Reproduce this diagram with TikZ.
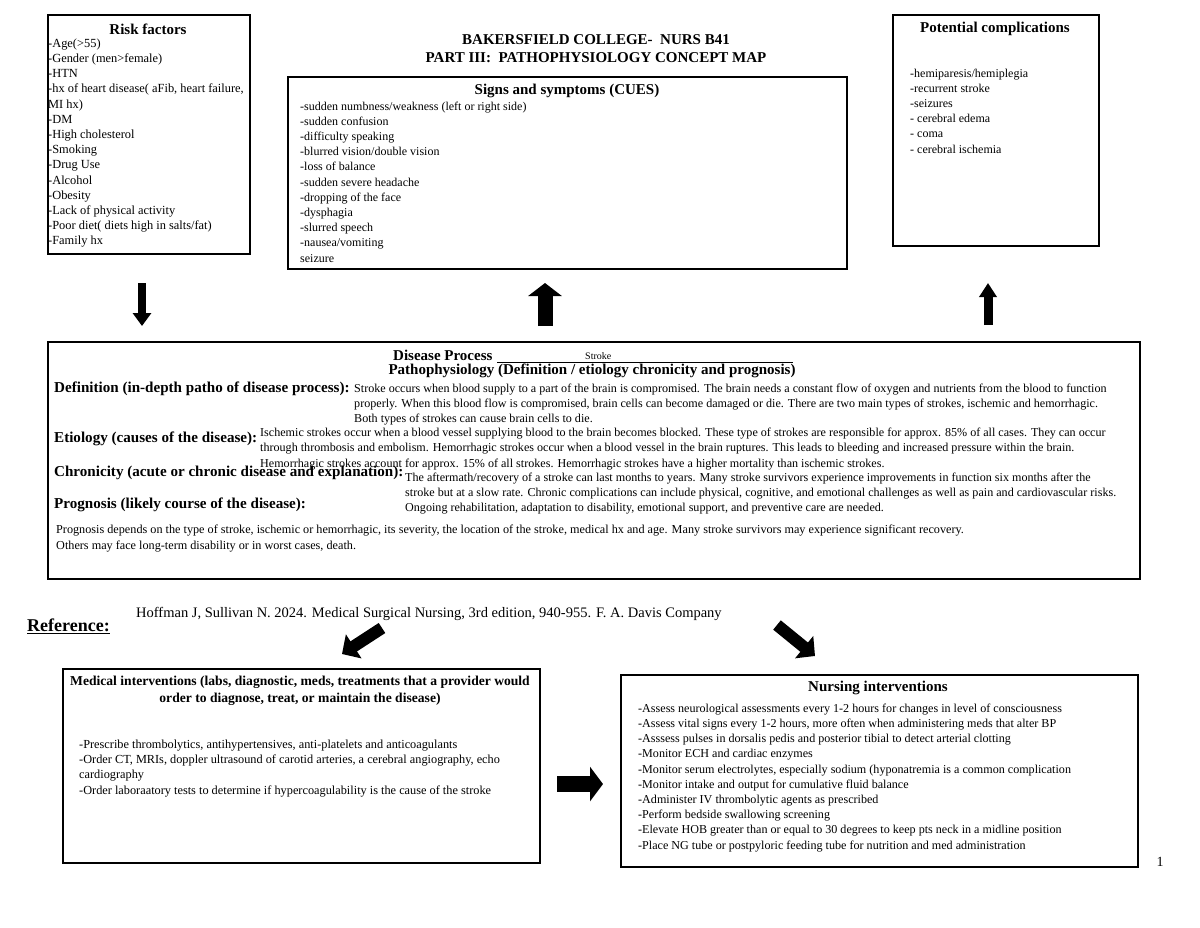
\documentclass[tikz,border=0pt]{standalone}
\usepackage{fontspec}
\setmainfont{Liberation Serif}
\usetikzlibrary{arrows.meta}

\newcommand{\fsz}[2]{\fontsize{#1}{#2}\selectfont}

\begin{document}
\begin{tikzpicture}[x=1pt,y=-1pt,
    box/.style={draw,line width=1.6pt,anchor=north west,inner sep=0pt},
    txt/.style={inner sep=0pt,anchor=north west,align=left,font=\fsz{12}{15.2}},
    head/.style={inner sep=0pt,align=center,font=\bfseries\fsz{15}{18}},
    lbl/.style={inner sep=0pt,anchor=west,font=\bfseries\fsz{15.1}{17}}]
                    \useasboundingbox (0,0) rectangle (1200,927);
                    % Title
                    \node[head] (T) at (596,49) {BAKERSFIELD COLLEGE-\ \ NURS B41\\PART III:\ \ PATHOPHYSIOLOGY CONCEPT MAP};
                    % Risk factors
                    \draw (47,14) node[box,minimum width=202,minimum height=239] (RF) {};
                    \node[head] (RFH) at (148,29) {Risk factors};
                    \node[txt,font=\fsz{12.4}{15.2}] (RFT) at (48,38.5) {-Age(>55)\\-Gender (men>female)\\-HTN\\-hx of heart disease( aFib, heart failure,\\MI hx)\\-DM\\-High cholesterol\\-Smoking\\-Drug Use\\-Alcohol\\-Obesity\\-Lack of physical activity\\-Poor diet( diets high in salts/fat)\\-Family hx};
                    % Signs and symptoms
                    \draw (287,76) node[box,minimum width=559,minimum height=192] (SS) {};
                    \node[head] (SSH) at (567,91) {Signs and symptoms (CUES)};
                    \node[txt] (SST) at (300,101.5) {-sudden numbness/weakness (left or right side)\\-sudden confusion\\-difficulty speaking\\-blurred vision/double vision\\-loss of balance\\-sudden severe headache\\-dropping of the face\\-dysphagia\\-slurred speech\\-nausea/vomiting\\seizure};
                    % Potential complications
                    \draw (892,14) node[box,minimum width=206,minimum height=231] (PC) {};
                    \node[head] (PCH) at (995,29) {Potential complications};
                    \node[txt] (PCT) at (910,68.5) {-hemiparesis/hemiplegia\\-recurrent stroke\\-seizures\\- cerebral edema\\- coma\\- cerebral ischemia};
                    % Upper arrows
                    \coordinate (A1) at (142,283);
                    \coordinate (A2) at (142,326);
                    \draw [line width=8pt,-{Triangle[width=18pt,length=13pt]}](A1) -- (A2);
                    \coordinate (B1) at (545,326);
                    \coordinate (B2) at (545,283);
                    \draw [line width=15pt,-{Triangle[width=33pt,length=13pt]}](B1) -- (B2);
                    \coordinate (C1) at (988,325);
                    \coordinate (C2) at (988,283);
                    \draw [line width=9pt,-{Triangle[width=17pt,length=14pt]}](C1) -- (C2);
                    % Disease process
                    \draw (47,341) node[box,minimum width=1092,minimum height=237] (DP) {};
                    \node[lbl,font=\bfseries\fsz{15}{18}] (DPH) at (393,355) {Disease Process};
                    \node[inner sep=0pt,anchor=west,font=\fsz{10}{12}] (DPS) at (585,356.5) {Stroke};
                    \coordinate (U1) at (497,362);
                    \coordinate (U2) at (793,362);
                    \draw [line width=0.8pt](U1) -- (U2);
                    \node[head] (PP) at (592,371) {Pathophysiology (Definition / etiology chronicity and prognosis)};
                    \node[lbl] (L1) at (54,389) {Definition (in-depth patho of disease process):};
                    \node[lbl] (L2) at (54,439) {Etiology (causes of the disease):};
                    \node[lbl] (L3) at (54,473) {Chronicity (acute or chronic disease and explanation):};
                    \node[lbl] (L4) at (54,505) {Prognosis (likely course of the disease):};
                    \node[txt,font=\fsz{12.1}{15}] (X1) at (354,383.5) {Stroke occurs when blood supply to a part of the brain is compromised. The brain needs a constant flow of oxygen and nutrients from the blood to function\\properly. When this blood flow is compromised, brain cells can become damaged or die. There are two main types of strokes, ischemic and hemorrhagic.\\Both types of strokes can cause brain cells to die.};
                    \node[txt,font=\fsz{12.1}{15.5}] (X2) at (260,427.5) {Ischemic strokes occur when a blood vessel supplying blood to the brain becomes blocked. These type of strokes are responsible for approx. 85\% of all cases. They can occur\\through thrombosis and embolism. Hemorrhagic strokes occur when a blood vessel in the brain ruptures. This leads to bleeding and increased pressure within the brain.\\Hemorrhagic strokes account for approx. 15\% of all strokes. Hemorrhagic strokes have a higher mortality than ischemic strokes.};
                    \node[txt,font=\fsz{12.1}{15}] (X3) at (405,472.5) {The aftermath/recovery of a stroke can last months to years. Many stroke survivors experience improvements in function six months after the\\stroke but at a slow rate. Chronic complications can include physical, cognitive, and emotional challenges as well as pain and cardiovascular risks.\\Ongoing rehabilitation, adaptation to disability, emotional support, and preventive care are needed.};
                    \node[txt,font=\fsz{12.2}{16}] (X4) at (56,524.5) {Prognosis depends on the type of stroke, ischemic or hemorrhagic, its severity, the location of the stroke, medical hx and age. Many stroke survivors may experience significant recovery.\\Others may face long-term disability or in worst cases, death.};
                    % Reference
                    \node[lbl,font=\bfseries\fsz{18}{20}] (R) at (27,626) {\underline{Reference:}};
                    \node[inner sep=0pt,anchor=west,font=\fsz{14.5}{16}] (RT) at (136,614) {Hoffman J, Sullivan N. 2024. Medical Surgical Nursing, 3rd edition, 940-955. F. A. Davis Company};
                    % Lower arrows
                    \coordinate (D1) at (382,628);
                    \coordinate (D2) at (342,654);
                    \draw [line width=12pt,-{Triangle[width=28pt,length=14pt]}](D1) -- (D2);
                    \coordinate (E1) at (777,625);
                    \coordinate (E2) at (815,656);
                    \draw [line width=12pt,-{Triangle[width=28pt,length=14pt]}](E1) -- (E2);
                    \coordinate (F1) at (557,784);
                    \coordinate (F2) at (603,784);
                    \draw [line width=16pt,-{Triangle[width=34pt,length=13pt]}](F1) -- (F2);
                    % Medical interventions
                    \draw (62,668) node[box,minimum width=477,minimum height=194] (MI) {};
                    \node[head,font=\bfseries\fsz{13.6}{17}] (MIH) at (300,690.5) {Medical interventions (labs, diagnostic, meds, treatments that a provider would\\order to diagnose, treat, or maintain the disease)};
                    \node[txt,font=\fsz{12.3}{15.3}] (MIT) at (79,739.5) {-Prescribe thrombolytics, antihypertensives, anti-platelets and anticoagulants\\-Order CT, MRIs, doppler ultrasound of carotid arteries, a cerebral angiography, echo\\cardiography\\-Order laboraatory tests to determine if hypercoagulability is the cause of the stroke};
                    % Nursing interventions
                    \draw (620,674) node[box,minimum width=517,minimum height=192] (NI) {};
                    \node[head] (NIH) at (878,688) {Nursing interventions};
                    \node[txt,font=\fsz{12.1}{15.2}] (NIT) at (638,703.5) {-Assess neurological assessments every 1-2 hours for changes in level of consciousness\\-Assess vital signs every 1-2 hours, more often when administering meds that alter BP\\-Asssess pulses in dorsalis pedis and posterior tibial to detect arterial clotting\\-Monitor ECH and cardiac enzymes\\-Monitor serum electrolytes, especially sodium (hyponatremia is a common complication\\-Monitor intake and output for cumulative fluid balance\\-Administer IV thrombolytic agents as prescribed\\-Perform bedside swallowing screening\\-Elevate HOB greater than or equal to 30 degrees to keep pts neck in a midline position\\-Place NG tube or postpyloric feeding tube for nutrition and med administration};
                    % Page
                    \node[inner sep=0pt,font=\fsz{14}{16}] (PG) at (1160,862) {1};
                \end{tikzpicture}
\end{document}
